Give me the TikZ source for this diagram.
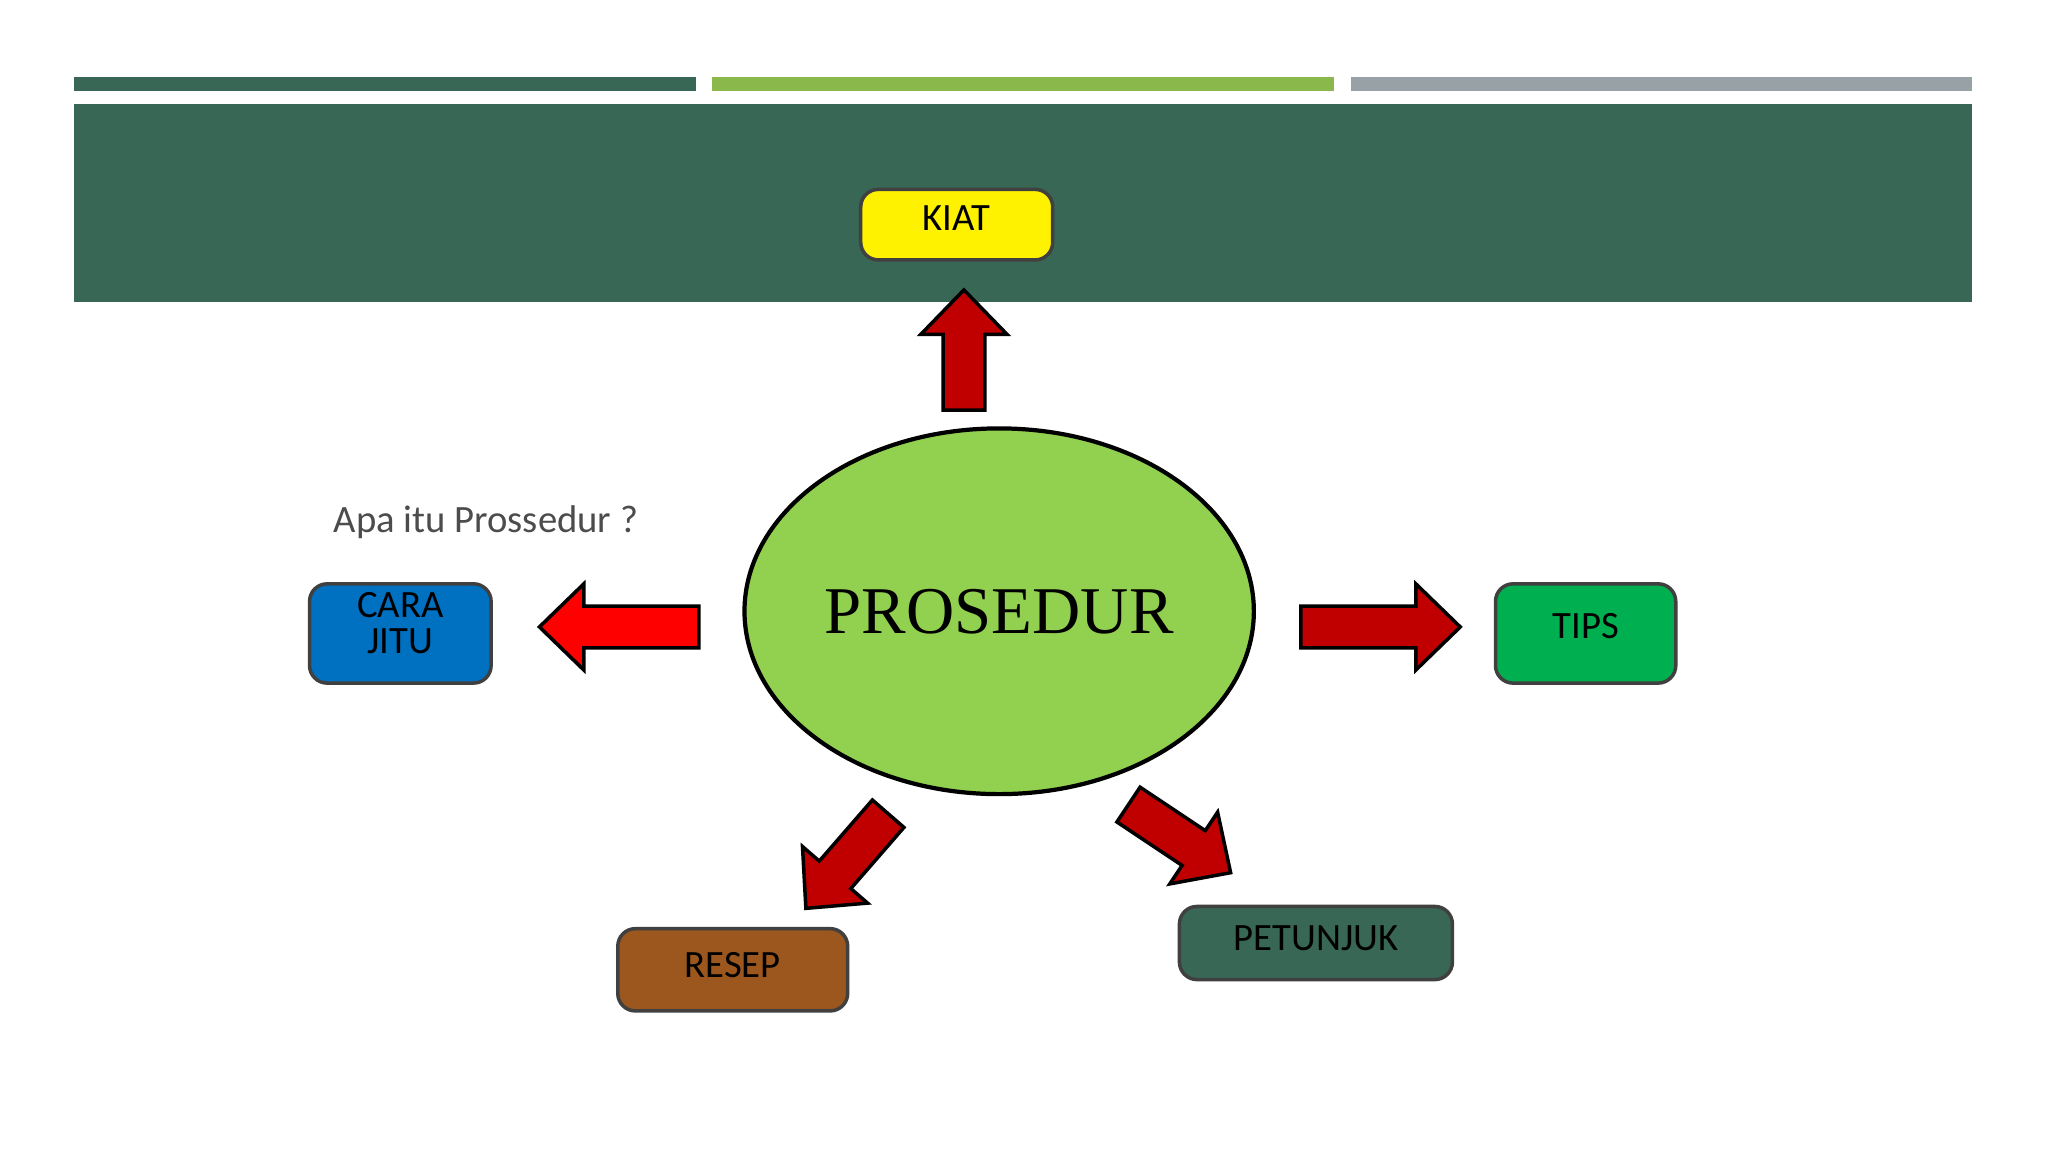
\documentclass[tikz,border=0pt]{standalone}
\usepackage{fontspec}
\usetikzlibrary{shapes.geometric}
\setmainfont{Carlito}
\newfontfamily\serifF{Liberation Serif}
\definecolor{dkg}{HTML}{386855}
\definecolor{lg}{HTML}{8BB84A}
\definecolor{gr}{HTML}{97A1A6}
\definecolor{ell}{HTML}{92D050}
\definecolor{dred}{HTML}{C00000}
\newcommand\bigarrow[4]{%
\begin{scope}[shift={#1},rotate=#2]
\draw[arr,fill=#4] (0,-16)--(#3-34,-16)--(#3-34,-33)--(#3,0)--(#3-34,33)--(#3-34,16)--(0,16)--cycle;
\end{scope}}
\begin{document}
\begin{tikzpicture}[x=0.01306cm,y=-0.01306cm,
 box/.style={draw=black!75,line width=1pt,rounded corners=5pt,font=\fontsize{11}{11}\selectfont,text=black,inner sep=0pt},
 arr/.style={draw=black,line width=1pt}]
\useasboundingbox (0,0) rectangle (1568,882);
\fill[white] (0,0) rectangle (1568,882);
\fill[dkg] (57,59) rectangle (533,70);
\fill[lg] (545,59) rectangle (1021,70);
\fill[gr] (1034,59) rectangle (1510,70);
\fill[dkg] (57,80) rectangle (1510,231);
\node[box,fill=yellow,minimum width=147*0.01306cm,minimum height=54*0.01306cm] (kiat) at (732.5,172) {\raisebox{4pt}{KIAT}};
\node[ellipse,draw=black,line width=1.2pt,fill=ell,inner sep=0pt,minimum width=390*0.01306cm,minimum height=280*0.01306cm,font=\serifF\fontsize{19}{19}\selectfont] (pro) at (765,468) {PROSEDUR};
\node[text=black!70,font=\fontsize{11}{11}\selectfont] (q) at (372,400) {Apa itu Prossedur ?};
\node[box,fill={rgb,255:red,0;green,112;blue,192},minimum width=139*0.01306cm,minimum height=76*0.01306cm,align=center,font=\fontsize{11}{13}\selectfont] (cara) at (306.5,485) {\raisebox{6pt}{\shortstack{CARA\\JITU}}};
\node[box,fill={rgb,255:red,0;green,176;blue,80},minimum width=138*0.01306cm,minimum height=76*0.01306cm] (tips) at (1214,485) {\raisebox{4pt}{TIPS}};
\node[box,fill={rgb,255:red,156;green,87;blue,30},minimum width=176*0.01306cm,minimum height=63*0.01306cm] (resep) at (561,742.5) {\raisebox{3pt}{RESEP}};
\node[box,fill=dkg,minimum width=209*0.01306cm,minimum height=56*0.01306cm] (pet) at (1007.5,722) {\raisebox{3pt}{PETUNJUK}};
\bigarrow{(738,314)}{90}{92}{dred}
\bigarrow{(535,480)}{180}{122}{red}
\bigarrow{(996,480)}{0}{122}{dred}
\bigarrow{(680,623)}{-131}{96}{dred}
\bigarrow{(864,616)}{-33.7}{94}{dred}
\end{tikzpicture}
\end{document}
